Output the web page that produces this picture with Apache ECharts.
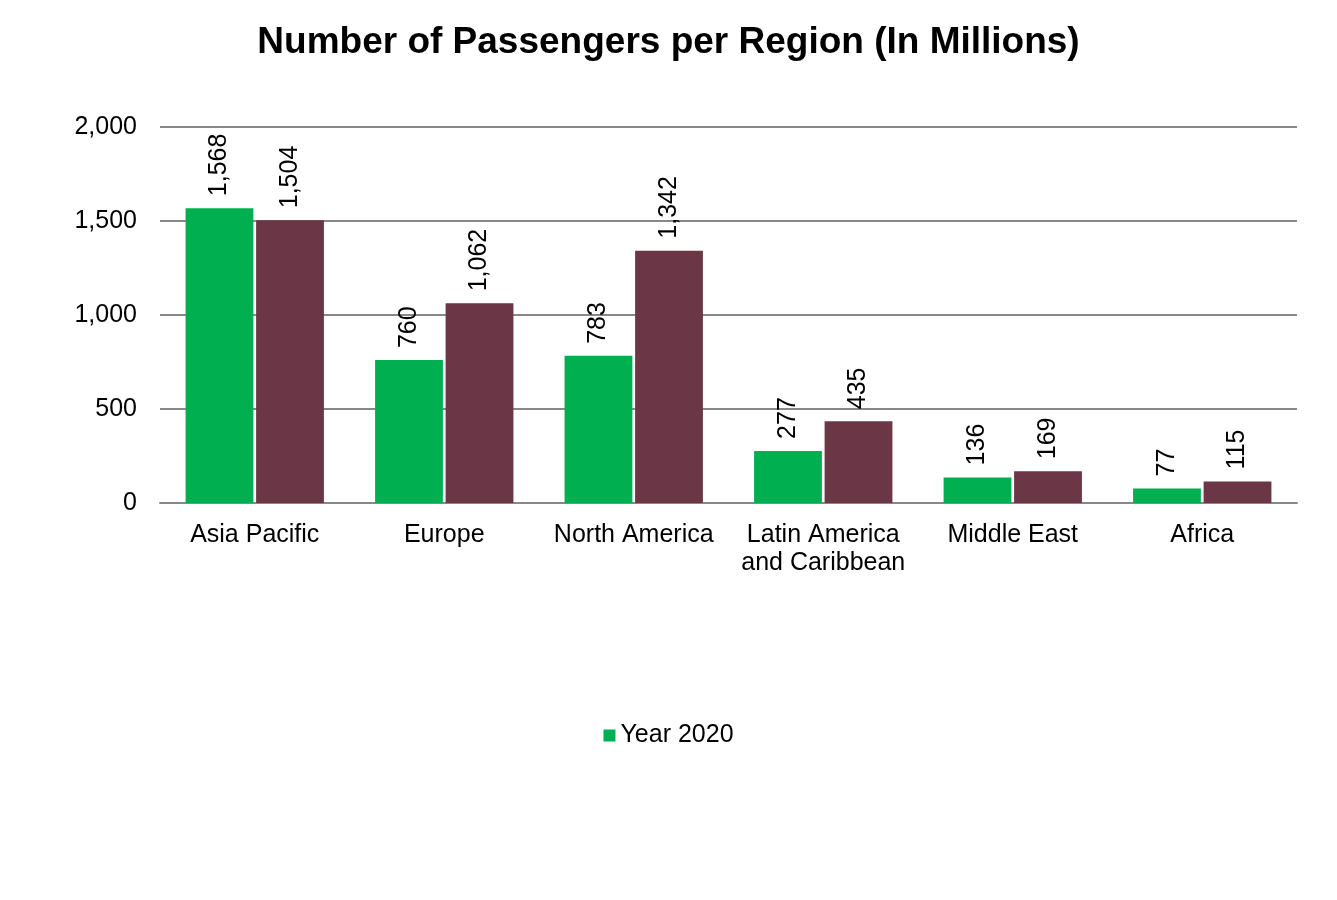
<!DOCTYPE html>
<html>
<head>
<meta charset="utf-8">
<script src="https://cdn.jsdelivr.net/npm/echarts@6/dist/echarts.min.js"></script>
<style>
  html, body { margin: 0; padding: 0; background: #fff; }
  #chart { width: 1337px; height: 900px; }
</style>
</head>
<body>
<div id="chart"></div>
<script>
const regions = ['Asia Pacific', 'Europe', 'North America', 'Latin America\nand Caribbean', 'Middle East', 'Africa']
const year2020 = [1568, 760, 783, 277, 136, 77]
const otherYear = [1504, 1062, 1342, 435, 169, 115]
const yTicks = { min: 0, max: 2000, interval: 500 }

const fmt = v => v.toLocaleString('en-US')
const font = '"Liberation Sans", Arial, sans-serif'

const labelOpt = {
  show: true,
  position: 'top',
  rotate: 90,
  align: 'left',
  verticalAlign: 'middle',
  distance: 12,
  color: '#000',
  fontSize: 25,
  fontFamily: font,
  formatter: p => fmt(p.value)
}

const chart = echarts.init(document.getElementById('chart'))
chart.setOption({
  animation: false,
  textStyle: { fontFamily: font },
  title: {
    text: 'Number of Passengers per Region (In Millions)',
    left: 'center',
    top: 19,
    textStyle: { fontSize: 37, fontWeight: 'bold', color: '#000', fontFamily: font }
  },
  legend: {
    data: ['Year 2020'],
    bottom: 147,
    left: 'center',
    itemWidth: 12,
    itemHeight: 12,
    icon: 'rect',
    itemGap: 5,
    textStyle: { fontSize: 25, color: '#000', fontFamily: font }
  },
  grid: { left: 160, right: 40, top: 127, bottom: 397 },
  xAxis: {
    type: 'category',
    data: regions,
    axisLine: { lineStyle: { color: '#888', width: 2 } },
    axisTick: { show: false },
    axisLabel: { interval: 0, fontSize: 25, color: '#000', margin: 18, lineHeight: 28, fontFamily: font }
  },
  yAxis: {
    type: 'value',
    min: yTicks.min,
    max: yTicks.max,
    interval: yTicks.interval,
    axisLine: { show: false },
    axisTick: { show: false },
    splitLine: { lineStyle: { color: '#888', width: 2 } },
    axisLabel: { fontSize: 25, color: '#000', margin: 23, fontFamily: font, formatter: v => fmt(v) }
  },
  series: [
    {
      name: 'Year 2020',
      type: 'bar',
      data: year2020,
      itemStyle: { color: '#00B050' },
      barGap: '4%',
      barCategoryGap: '27%',
      label: labelOpt
    },
    {
      name: 'Year 2019',
      type: 'bar',
      data: otherYear,
      itemStyle: { color: '#6B3646' },
      label: labelOpt
    }
  ]
})
</script>
</body>
</html>
